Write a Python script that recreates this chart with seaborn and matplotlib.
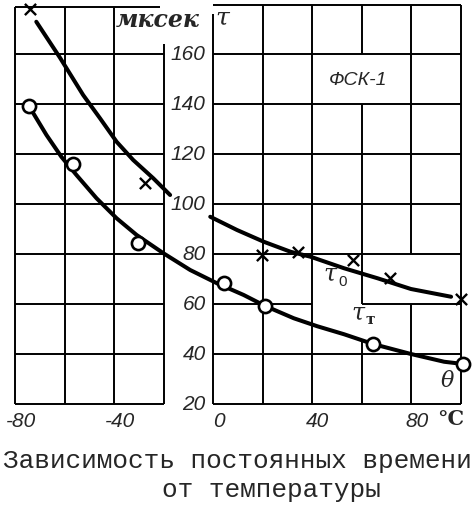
import matplotlib
matplotlib.use("Agg")
import matplotlib.pyplot as plt
from matplotlib import transforms
import numpy as np
import pandas as pd
import seaborn as sns

# ---------------- data ----------------
# measured points, tau_0 (crosses)
tau0_x = [-74, -27.5, 19.7, 34.1, 56.4, 71.3, 100]
tau0_y = [178, 108.3, 79.6, 80.7, 77.6, 70.3, 62]
# measured points, tau_T (circles)
tau1_x = [-74.4, -56.6, -30.5, 4.2, 21, 64.5, 100.9]
tau1_y = [139.3, 116, 84.5, 68.3, 59.2, 44, 36]
# hand-drawn curves
tau0_curve_left_x = [-71.4, -61.9, -52.5, -45.7, -39, -32.3, -24.2, -17.4]
tau0_curve_left_y = [172.9, 158.6, 143.6, 134.3, 124.9, 117.6, 110.3, 103.6]
tau0_curve_right_x = [-1.2, 9.6, 20.4, 31.2, 39.3, 52.8, 66.3, 79.8, 96]
tau0_curve_right_y = [94.9, 89.6, 84.9, 80.9, 78.9, 74.3, 70.3, 66.0, 62.9]
tau1_curve_x = [-73.4, -67.3, -61.3, -55.2, -47.1, -39, -30.9, -20.1, -9.3, 1.5,
                12.3, 21, 32.5, 42, 52.8, 64.5, 79.8, 93.2, 100.9]
tau1_curve_y = [137.6, 127.6, 118.9, 111.6, 102.3, 94.3, 87.6, 80.3, 73.6, 68.3,
                63.6, 59.2, 54.3, 51.1, 47.9, 44, 40, 36.9, 36]

y_ticks = [20, 40, 60, 80, 100, 120, 140, 160]
x_tick_vals = [-80, -40, 0, 40, 80]
x_tick_labels = ["-80", "-40", "0", "40", "80"]
left_grid_x = [-80, -60, -40, -20]
right_grid_x = [0, 20, 40, 60, 80, 100]

# ---------------- figure ----------------
sns.set_style("white")
plt.rcParams["font.family"] = ["DejaVu Sans"]

fig = plt.figure(figsize=(4.74, 5.11), dpi=100)
ax = fig.add_axes([15 / 474, 1 - 404 / 511, 446 / 474, 400 / 511])
ax.set_xlim(-80, 100)
ax.set_ylim(20, 180)
for s in ax.spines.values():
    s.set_visible(False)

glw = 1.4
gk = dict(color="black", lw=glw, zorder=1, clip_on=False)
# left panel grid
ax.hlines(y_ticks, -80, -20, **gk)
ax.hlines([179], -80, -21.5, **gk)
ax.vlines(left_grid_x[:-1], 20, 179, **gk)
ax.vlines([-20], 20, 164, **gk)
# right panel grid
ax.hlines([y for y in y_ticks if y != 60], 0, 100, **gk)
ax.hlines([60, 60], [0, 60], [40, 100], **gk)
ax.hlines([179.6], 0, 100, **gk)
ax.vlines([0], 20, 176, **gk)
ax.vlines([20, 40, 100], 20, 179.6, **gk)
ax.vlines([60, 60, 60], [20, 60, 160], [45, 140, 179.6], **gk)
ax.vlines([80, 80], [20, 80], [60, 179.6], **gk)

# curves
clw = 2.9
for cx, cy in [(tau0_curve_left_x, tau0_curve_left_y),
               (tau0_curve_right_x, tau0_curve_right_y),
               (tau1_curve_x, tau1_curve_y)]:
    sns.lineplot(x=cx, y=cy, sort=False, estimator=None, color="black",
                 lw=clw, ax=ax, zorder=3, solid_capstyle="round",
                 solid_joinstyle="round")

# markers
sns.scatterplot(x=tau0_x, y=tau0_y, marker="x", s=65, color="black",
                linewidth=1.7, ax=ax, zorder=5, clip_on=False)
sns.scatterplot(x=tau1_x, y=tau1_y, marker="o", s=90, facecolor="white",
                edgecolor="black", linewidth=1.9, ax=ax, zorder=6, clip_on=False)

# x tick labels
ax.set_xticks(x_tick_vals)
ax.set_xticklabels(x_tick_labels, fontsize=15, fontstyle="italic", family="Liberation Sans")
ax.tick_params(axis="x", length=0, pad=6)
off = transforms.ScaledTranslation(4 / 72, 0, fig.dpi_scale_trans)
for lab in ax.get_xticklabels():
    lab.set_transform(lab.get_transform() + off)
ax.set_yticks([])

# y tick labels in the middle column
for y in y_ticks:
    ax.text(-3.0, y, str(y), ha="right", va="center", fontsize=15,
            fontstyle="italic", family="Liberation Sans", zorder=4)

# annotations
ax.text(-22.3, 173.6, "мксек", ha="center", va="center", fontsize=17,
        fontweight="bold", fontstyle="italic", family="DejaVu Serif")
ax.text(3.8, 174.6, "τ", ha="center", va="center", fontsize=18,
        fontstyle="italic", family="DejaVu Serif")
ax.text(58.3, 149.6, "ФСК-1", ha="center", va="center", fontsize=14,
        fontstyle="italic", family="Liberation Sans")
ax.text(47.3, 72, "τ", ha="center", va="center", fontsize=17,
        fontstyle="italic", family="DejaVu Serif")
ax.text(52.3, 68.8, "0", ha="center", va="center", fontsize=11, family="Liberation Sans")
ax.text(58.3, 56.6, "τ", ha="center", va="center", fontsize=17,
        fontstyle="italic", family="DejaVu Serif")
ax.text(63.3, 53.6, "т", ha="center", va="center", fontsize=11,
        fontweight="bold", family="DejaVu Serif")
ax.text(94.3, 29.2, "θ", ha="center", va="center", fontsize=16,
        fontstyle="italic", family="DejaVu Serif")
ax.text(95.8, 14, "°C", ha="center", va="center", fontsize=15,
        fontweight="bold", family="DejaVu Serif", clip_on=False)

# caption
fig.text(3 / 474, 1 - 468 / 511, "Зависимость постоянных времени", ha="left",
         va="baseline", fontsize=18.8, family="Liberation Mono")
fig.text(162 / 474, 1 - 497 / 511, "от температуры", ha="left",
         va="baseline", fontsize=18.8, family="Liberation Mono")

fig.savefig("out.png", dpi=100)
